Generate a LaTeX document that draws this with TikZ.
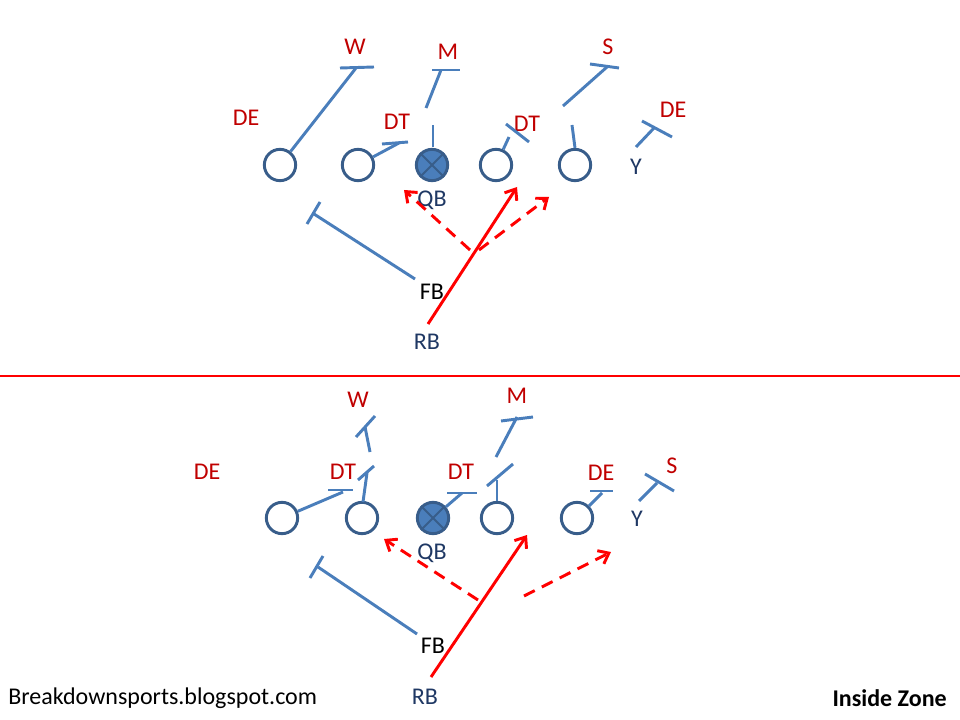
\documentclass[tikz,border=0pt]{standalone}
\usepackage{fontspec}
\setmainfont{Carlito}
\usetikzlibrary{arrows.meta}
\definecolor{lblred}{RGB}{192,0,0}
\definecolor{blkblue}{RGB}{74,126,187}
\definecolor{ringblue}{RGB}{56,93,138}
\definecolor{txtblue}{RGB}{31,56,100}

\tikzset{
  player/.style={circle,draw=ringblue,line width=2.2pt,minimum size=23.5pt,inner sep=0pt},
  qbman/.style={player,fill=blkblue},
  blk/.style={blkblue,line width=2.2pt},
  lbl/.style={text=lblred,font=\fontsize{18}{20}\selectfont,inner sep=1pt},
  txt/.style={text=txtblue,font=\fontsize{18}{20}\selectfont,inner sep=1pt},
  run/.style={red,line width=2.2pt,-{Straight Barb[length=7pt,width=11pt,line width=2.2pt]}},
  fake/.style={run,dash pattern=on 9pt off 6pt},
}

\begin{document}
\begin{tikzpicture}[x=0.75pt,y=-0.75pt]
\useasboundingbox (0,0) rectangle (960,720);
% ---- top diagram
\node[player] (t1) at (280,165) {};
\node[player] (t2) at (358,165) {};
\node[qbman] (tq) at (432,165) {};
\draw[ringblue,line width=1.5pt] (tq.north west) -- (tq.south east) (tq.north east) -- (tq.south west);
\node[player] (t4) at (496,165) {};
\node[player] (t5) at (575,165) {};
\node[txt] (ty) at (636,167) {Y};
\node[txt] (tqb) at (432,200) {QB};
\node[lbl,text=black] (tfb) at (432,292) {FB};
\node[txt] (trb) at (427,342) {RB};
\node[lbl] (tde1) at (246,118) {DE};
\node[lbl] (tw) at (355,47) {W};
\node[lbl] (tm) at (448,52) {M};
\node[lbl] (tdt1) at (397,122) {DT};
\node[lbl] (tdt2) at (527,124) {DT};
\node[lbl] (ts) at (608,47) {S};
\node[lbl] (tde2) at (673,110) {DE};
% blocks
\coordinate (ta1) at (356,68);
\draw[blk] (t1) -- (ta1);
\draw[blk] (340,68) -- (374,67);
\coordinate (ta2) at (399,143);
\draw[blk] (t2) -- (ta2);
\draw[blk] (382,144) -- (408,142);
\draw[blk] (433,147) -- (433,125);
\draw[blk] (426,108) -- (441,70);
\draw[blk] (432,70) -- (460,70);
\coordinate (ta4) at (509,137);
\draw[blk] (t4) -- (ta4);
\draw[blk] (506,124) -- (529,142);
\coordinate (ta5) at (572,125);
\draw[blk] (t5.north) -- (ta5);
\draw[blk] (563,106) -- (607,67);
\draw[blk] (590,64) -- (619,68);
\coordinate (tay) at (654,128);
\draw[blk] (636,147) -- (tay);
\draw[blk] (642,121) -- (672,137);
\coordinate (tafb) at (314,214);
\draw[blk] (415,279) -- (tafb);
\draw[blk] (307,224) -- (320,202);
% runs
\draw[run] (428,324) -- (517,187);
\draw[fake] (470,250) -- (404,190);
\draw[fake] (479,250) -- (549,197);

% ---- divider
\draw[red,line width=1.6pt] (0,376) -- (960,376);

% ---- bottom diagram
\node[player] (b1) at (282,518) {};
\node[player] (b2) at (362,518) {};
\node[qbman] (bq) at (433,518) {};
\draw[ringblue,line width=1.5pt] (bq.north west) -- (bq.south east) (bq.north east) -- (bq.south west);
\node[player] (b4) at (497,518) {};
\node[player] (b5) at (577,518) {};
\node[txt] (by) at (637,519) {Y};
\node[txt] (bqb) at (432,553) {QB};
\node[lbl,text=black] (bfb) at (433,646) {FB};
\node[txt] (brb) at (425,697) {RB};
\node[lbl] (bde1) at (207,472) {DE};
\node[lbl] (bdt1) at (343,472) {DT};
\node[lbl] (bw) at (358,400) {W};
\node[lbl] (bdt2) at (461,472) {DT};
\node[lbl] (bm) at (517,396) {M};
\node[lbl] (bde2) at (601,473) {DE};
\node[lbl] (bs) at (672,466) {S};
% blocks
\coordinate (ba1) at (343,492);
\draw[blk] (b1) -- (ba1);
\draw[blk] (328,490) -- (353,490);
\coordinate (ba2) at (367,473);
\draw[blk] (363,502) -- (ba2);
\draw[blk] (358,480) -- (374,466);
\draw[blk] (370,452) -- (365,427);
\draw[blk] (356,437) -- (375,416);
\coordinate (baq) at (462,493);
\draw[blk] (bq) -- (baq);
\draw[blk] (447,493) -- (477,493);
\coordinate (ba4) at (497,480);
\draw[blk] (b4.north) -- (ba4);
\draw[blk] (487,486) -- (513,464);
\draw[blk] (496,457) -- (517,417);
\draw[blk] (501,421) -- (533,417);
\coordinate (ba5) at (602,493);
\draw[blk] (b5) -- (ba5);
\draw[blk] (590,491) -- (613,491);
\coordinate (bay) at (657,483);
\draw[blk] (639,501) -- (bay);
\draw[blk] (645,474) -- (674,491);
\coordinate (bafb) at (318,567);
\draw[blk] (417,634) -- (bafb);
\draw[blk] (310,578) -- (323,556);
% runs
\draw[run] (431,677) -- (527,535);
\draw[fake] (478,600) -- (384,539);
\draw[fake] (524,596) -- (611,552);

% ---- footer
\node[anchor=west,font=\fontsize{18}{20}\selectfont,inner sep=0pt] (site) at (8,698) {Breakdownsports.blogspot.com};
\node[anchor=east,font=\fontsize{18}{20}\selectfont\bfseries,inner sep=0pt] (title) at (947,698) {Inside Zone};
\end{tikzpicture}
\end{document}
